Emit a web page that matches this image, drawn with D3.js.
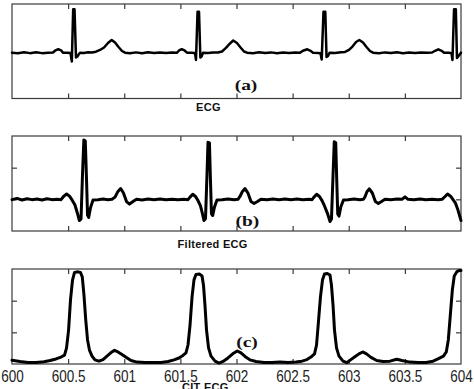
<!doctype html>
<html>
<head>
<script src="https://cdnjs.cloudflare.com/ajax/libs/d3/7.8.5/d3.min.js"></script>
<style>
  body { margin: 0; background: #fff; }
  svg { display: block; }
  .frame { fill: none; stroke: #3a3a3a; stroke-width: 1.2px; }
  .tick line { stroke: #3a3a3a; stroke-width: 1.2px; }
  .trace { fill: none; stroke: #000; stroke-linejoin: round; stroke-linecap: round; }
  .caption { font-family: "Liberation Sans", Arial, sans-serif; font-weight: bold; font-size: 11px; fill: #111; }
  .tag { font-family: "Liberation Serif", "Times New Roman", serif; font-weight: bold; font-size: 15px; fill: #111; text-anchor: middle; }
  .xlab text { font-family: "Liberation Sans", Arial, sans-serif; font-size: 13.5px; fill: #222; }
</style>
</head>
<body>
<svg width="474" height="389"></svg>
<script>
// time axis (s)
const xTicks = [600, 600.5, 601, 601.5, 602, 602.5, 603, 603.5, 604];
const tickLabels = ["600", "600.5", "601", "601.5", "602", "602.5", "603", "603.5", "604"];

// (a) raw ECG  [time, amplitude]
const ecg = [
  [600.000, 0], [600.053, -0.01], [600.107, 0.01], [600.160, -0.01], [600.214, 0.01], [600.267, -0.01], [600.321, 0], [600.365, 0.005],
  [600.388, 0.05], [600.412, 0.072], [600.437, 0.05], [600.454, 0], [600.490, 0], [600.521, -0.006],
  [600.533, -0.186], [600.545, 0.918], [600.557, 0.918], [600.570, -0.10], [600.584, -0.08], [600.596, -0.03], [600.606, 0],
  [600.641, -0.006], [600.677, 0.01], [600.713, 0.005], [600.748, 0.02],
  [600.784, 0.057], [600.820, 0.11], [600.855, 0.205], [600.888, 0.268], [600.918, 0.215], [600.949, 0.12], [600.980, 0.036], [601.007, 0],
  [601.051, -0.01], [601.105, 0.006], [601.158, -0.013], [601.212, 0.008], [601.265, -0.008], [601.318, 0.004], [601.372, -0.006], [601.425, 0.006], [601.470, -0.002],
  [601.488, 0.047], [601.512, 0.072], [601.537, 0.047], [601.559, 0], [601.595, -0.002], [601.630, -0.006],
  [601.639, -0.154], [601.653, 0.867], [601.666, 0.867], [601.678, -0.10], [601.690, -0.08], [601.702, 0],
  [601.746, -0.006], [601.791, 0.006], [601.835, 0.004],
  [601.871, 0.025], [601.906, 0.10], [601.942, 0.195], [601.971, 0.258], [602.004, 0.205], [602.036, 0.11], [602.067, 0.025], [602.094, 0],
  [602.147, -0.013], [602.200, 0.008], [602.254, -0.008], [602.307, 0.006], [602.361, -0.01], [602.414, 0.004], [602.468, -0.006], [602.521, 0.006], [602.566, 0],
  [602.592, 0.04], [602.631, 0.072], [602.659, 0.04], [602.682, 0], [602.726, -0.006], [602.748, -0.01],
  [602.759, -0.144], [602.775, 0.867], [602.791, 0.867], [602.802, -0.091], [602.815, -0.07], [602.829, 0],
  [602.877, -0.006], [602.931, 0.008], [602.967, 0.015],
  [603.002, 0.057], [603.033, 0.13], [603.065, 0.226], [603.094, 0.268], [603.127, 0.215], [603.158, 0.12], [603.189, 0.036], [603.216, 0],
  [603.270, -0.013], [603.323, 0.006], [603.376, -0.008], [603.430, 0.008], [603.483, -0.01], [603.537, 0.004], [603.590, -0.006], [603.644, 0.006], [603.697, -0.004], [603.742, 0.004],
  [603.769, 0.04], [603.798, 0.072], [603.827, 0.04], [603.849, 0], [603.893, -0.004], [603.915, -0.01],
  [603.924, -0.154], [603.938, 0.918], [603.954, 0.918], [603.964, -0.112], [603.978, -0.07], [604.000, 0]
];

// (b) filtered ECG
const filteredEcg = [
  [600.000, -0.01], [600.045, 0.03], [600.089, -0.02], [600.134, 0.02], [600.178, -0.01], [600.223, 0.01], [600.267, -0.02], [600.312, 0.02], [600.356, -0.01], [600.401, 0], [600.437, -0.01],
  [600.459, 0.09], [600.487, 0.17], [600.512, 0.10], [600.535, -0.02], [600.561, -0.18], [600.582, -0.43], [600.600, -0.67], [600.615, -0.62],
  [600.628, 0.77], [600.640, 1.87], [600.653, 1.84], [600.664, 0.61], [600.673, -0.50], [600.683, -0.57], [600.699, -0.27], [600.722, -0.02],
  [600.766, -0.01], [600.811, 0.01], [600.855, -0.01], [600.891, 0],
  [600.918, 0.07], [600.944, 0.25], [600.968, 0.34], [600.993, 0.20], [601.020, -0.07], [601.047, -0.15], [601.078, -0.07], [601.109, 0],
  [601.158, -0.02], [601.212, 0.01], [601.265, -0.01], [601.318, 0.01], [601.372, -0.01], [601.425, 0], [601.479, -0.01], [601.532, 0], [601.568, -0.01],
  [601.586, 0.07], [601.610, 0.16], [601.635, 0.09], [601.657, -0.04], [601.679, -0.21], [601.695, -0.43], [601.710, -0.67], [601.724, -0.61],
  [601.737, 0.77], [601.746, 1.80], [601.759, 1.78], [601.768, 0.61], [601.777, -0.46], [601.788, -0.51], [601.804, -0.24], [601.826, -0.02],
  [601.871, -0.01], [601.924, 0.01], [601.978, -0.01], [602.013, 0],
  [602.031, 0.09], [602.053, 0.25], [602.076, 0.34], [602.102, 0.20], [602.129, -0.07], [602.156, -0.13], [602.187, -0.07], [602.218, 0],
  [602.272, -0.01], [602.325, 0.01], [602.379, -0.01], [602.432, 0.01], [602.486, -0.01], [602.539, 0.01], [602.592, -0.01], [602.646, 0], [602.673, -0.01],
  [602.690, 0.07], [602.714, 0.16], [602.739, 0.09], [602.762, -0.04], [602.784, -0.21], [602.811, -0.45], [602.833, -0.70], [602.846, -0.62],
  [602.860, 0.77], [602.871, 1.82], [602.884, 1.79], [602.893, 0.61], [602.902, -0.46], [602.913, -0.53], [602.929, -0.24], [602.953, -0.02],
  [602.993, -0.01], [603.047, 0.01], [603.100, -0.01], [603.131, 0],
  [603.145, 0.08], [603.163, 0.25], [603.183, 0.33], [603.210, 0.20], [603.237, -0.07], [603.264, -0.13], [603.292, -0.07], [603.323, 0],
  [603.376, -0.01], [603.430, 0.01], [603.474, 0], [603.501, 0.08], [603.528, 0], [603.581, -0.01], [603.635, 0.01], [603.688, -0.01], [603.742, 0], [603.795, -0.01], [603.831, 0],
  [603.858, 0.09], [603.880, 0.17], [603.907, 0.10], [603.929, -0.01], [603.951, -0.12], [603.973, -0.34], [604.000, -0.67]
];

// (c) CIT ECG
const citEcg = [
  [600.000, 0.12], [600.071, 0.08], [600.143, 0.05], [600.214, 0.05], [600.285, 0.07], [600.339, 0.11], [600.392, 0.16], [600.437, 0.22],
  [600.468, 0.28], [600.486, 0.51], [600.504, 1.07], [600.521, 2.02], [600.539, 2.65], [600.557, 2.89], [600.588, 2.91], [600.610, 2.89],
  [600.626, 2.75], [600.641, 2.18], [600.657, 1.39], [600.673, 0.76], [600.690, 0.44], [600.713, 0.25], [600.739, 0.13], [600.775, 0.09],
  [600.811, 0.14], [600.846, 0.25], [600.882, 0.36], [600.913, 0.43], [600.944, 0.38], [600.980, 0.30], [601.016, 0.21], [601.060, 0.11],
  [601.114, 0.06], [601.185, 0.05], [601.256, 0.05], [601.327, 0.05], [601.390, 0.08], [601.443, 0.13], [601.488, 0.19], [601.523, 0.27],
  [601.550, 0.35], [601.568, 0.60], [601.586, 1.23], [601.604, 2.12], [601.621, 2.65], [601.639, 2.83], [601.669, 2.84], [601.693, 2.78],
  [601.706, 2.49], [601.719, 1.86], [601.733, 1.07], [601.751, 0.51], [601.773, 0.25], [601.809, 0.09], [601.844, 0.03], [601.880, 0.08],
  [601.924, 0.19], [601.969, 0.33], [602.007, 0.41], [602.040, 0.35], [602.076, 0.24], [602.120, 0.13], [602.174, 0.08], [602.245, 0.05],
  [602.316, 0.05], [602.388, 0.06], [602.459, 0.05], [602.530, 0.06], [602.583, 0.09], [602.628, 0.14], [602.663, 0.22], [602.695, 0.32],
  [602.713, 0.60], [602.730, 1.33], [602.748, 2.12], [602.766, 2.65], [602.784, 2.84], [602.809, 2.86], [602.833, 2.81], [602.846, 2.49],
  [602.860, 1.86], [602.873, 1.07], [602.891, 0.51], [602.913, 0.25], [602.949, 0.09], [602.982, 0.04], [603.016, 0.13], [603.051, 0.22],
  [603.091, 0.32], [603.124, 0.38], [603.158, 0.32], [603.198, 0.21], [603.249, 0.11], [603.305, 0.08], [603.367, 0.09], [603.427, 0.15],
  [603.474, 0.11], [603.546, 0.06], [603.617, 0.05], [603.688, 0.05], [603.751, 0.09], [603.795, 0.16], [603.844, 0.25], [603.869, 0.38],
  [603.887, 0.76], [603.905, 1.55], [603.923, 2.34], [603.940, 2.78], [603.964, 2.92], [603.982, 2.95], [604.000, 2.95]
];

const svg = d3.select("svg");
const x = d3.scaleLinear().domain([600, 604]).range([12, 461]);

const panels = [
  { data: ecg, top: 4, bottom: 98.5, domain: [-0.97, 1.03], yTicks: [], lw: 2.5,
    caption: "ECG", capX: 196, capY: 111, tag: "(a)", tagX: 246, tagY: 89.5 },
  { data: filteredEcg, top: 136, bottom: 231, domain: [-1, 2], yTicks: [0, 1], lw: 3,
    caption: "Filtered ECG", capX: 177.5, capY: 247.5, tag: "(b)", tagX: 247.3, tagY: 225.5 },
  { data: citEcg, top: 269, bottom: 364, domain: [0, 3], yTicks: [1, 2], lw: 3,
    caption: "CIT ECG", capX: 182, capY: 391, tag: "(c)", tagX: 247, tagY: 347 }
];

const inner = xTicks.slice(1, -1);

panels.forEach((p, i) => {
  const y = d3.scaleLinear().domain(p.domain).range([p.bottom, p.top]);
  const g = svg.append("g").attr("class", "panel");

  g.append("rect").attr("class", "frame")
    .attr("x", x(600)).attr("y", p.top)
    .attr("width", x(604) - x(600)).attr("height", p.bottom - p.top);

  // inward ticks on all four sides
  g.append("g").attr("transform", `translate(0,${p.top})`)
    .call(d3.axisBottom(x).tickValues(inner).tickSize(5).tickFormat(""))
    .call(a => a.select(".domain").remove());
  g.append("g").attr("transform", `translate(0,${p.bottom})`)
    .call(d3.axisTop(x).tickValues(inner).tickSize(5).tickFormat(""))
    .call(a => a.select(".domain").remove());
  if (p.yTicks.length) {
    g.append("g").attr("transform", `translate(${x(600)},0)`)
      .call(d3.axisRight(y).tickValues(p.yTicks).tickSize(5).tickFormat(""))
      .call(a => a.select(".domain").remove());
    g.append("g").attr("transform", `translate(${x(604)},0)`)
      .call(d3.axisLeft(y).tickValues(p.yTicks).tickSize(5).tickFormat(""))
      .call(a => a.select(".domain").remove());
  }

  const line = d3.line().x(d => x(d[0])).y(d => y(d[1]));
  g.append("path").datum(p.data).attr("class", "trace")
    .attr("stroke-width", p.lw).attr("d", line);

  g.append("text").attr("class", "tag")
    .attr("transform", `translate(${p.tagX},${p.tagY}) scale(1.3,1)`)
    .text(p.tag);
  g.append("text").attr("class", "caption")
    .attr("x", p.capX).attr("y", p.capY).attr("letter-spacing", 0.3)
    .text(p.caption);

  if (i === panels.length - 1) {
    g.append("g").attr("class", "xlab").attr("transform", "translate(0,381.7)")
      .call(d3.axisBottom(x).tickValues(xTicks).tickSize(0).tickFormat((d, k) => tickLabels[k]))
      .call(a => a.select(".domain").remove())
      .call(a => a.selectAll("text").attr("y", 0).attr("dy", 0)
        .attr("transform", "scale(1,1.2)"));
  }
});
</script>
</body>
</html>
